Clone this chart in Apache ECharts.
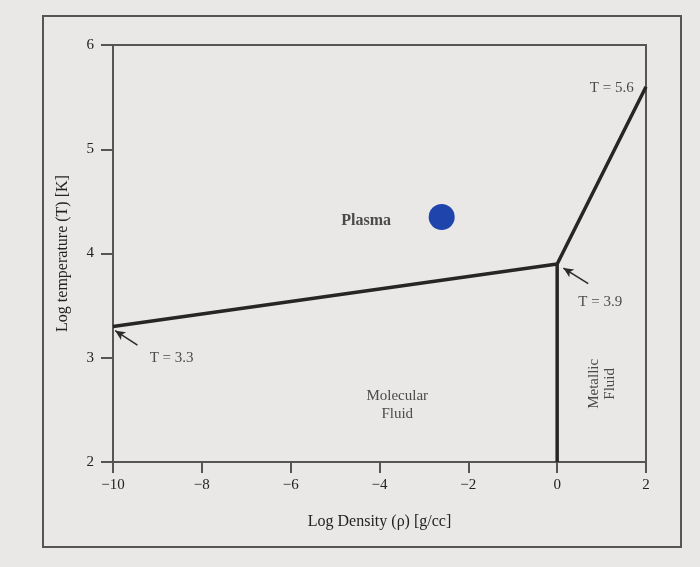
<!DOCTYPE html>
<html>
<head>
<meta charset="utf-8">
<script src="https://cdn.jsdelivr.net/npm/echarts@6/dist/echarts.min.js"></script>
<style>html,body{margin:0;padding:0;background:#e9e8e6;}#c{width:700px;height:567px;}</style>
</head>
<body>
<div id="c"></div>
<script>
// Phase boundaries
const boundaryX = [-10, 0, 2];
const boundaryT = [3.3, 3.9, 5.6];
const metallicX = [0, 0];
const metallicT = [2, 3.9];
// Marked point
const pointX = [-2.6];
const pointT = [4.35];
// Axis ticks
const xTicks = [-10, -8, -6, -4, -2, 0, 2];
const yTicks = [2, 3, 4, 5, 6];
// Text annotations
const regionNames = ['Plasma', 'Molecular\nFluid', 'Metallic\nFluid'];
const regionX = [-4.3, -3.6, 1.0];
const regionT = [4.31, 2.55, 2.75];
const tempLabels = ['T = 5.6', 'T = 3.3', 'T = 3.9'];
const tempLabelX = [1.23, -8.68, 0.97];
const tempLabelT = [5.59, 3.0, 3.53];
const arrowTailX = [-9.45, 0.7];
const arrowTailT = [3.12, 3.71];
const arrowHeadX = [-9.95, 0.14];
const arrowHeadT = [3.26, 3.86];

const serif = '"Liberation Serif", "DejaVu Serif", serif';
const chart = echarts.init(document.getElementById('c'));
const textColor = '#222';

const textSeries = (names, xs, ys, style) => ({
  type: 'scatter', symbolSize: 0, silent: true, z: 5,
  data: names.map((n, i) => ({ value: [xs[i], ys[i]], name: n })),
  label: Object.assign({ show: true, position: 'inside', formatter: p => p.name,
    fontFamily: serif, color: textColor, fontSize: 15, lineHeight: 18 }, style)
});

chart.setOption({
  backgroundColor: '#e9e8e6',
  animation: false,
  graphic: [{ type: 'rect', shape: { x: 43, y: 16, width: 638, height: 531 },
    style: { fill: 'none', stroke: '#555', lineWidth: 2 } }],
  grid: { left: 113, right: 54, top: 45, bottom: 105, show: true,
    borderColor: '#555', borderWidth: 2, backgroundColor: 'transparent' },
  xAxis: {
    type: 'value', min: xTicks[0], max: xTicks[xTicks.length - 1], interval: 2,
    axisLine: { show: true, onZero: false, lineStyle: { color: '#555', width: 2 } },
    axisTick: { show: true, length: 11, lineStyle: { color: '#555', width: 2 } },
    splitLine: { show: false },
    axisLabel: { fontFamily: serif, fontSize: 15, color: textColor, margin: 16,
      formatter: v => (v < 0 ? '\u2212' + (-v) : String(v)) },
    name: 'Log Density (\u03c1) [g/cc]', nameLocation: 'middle', nameGap: 52,
    nameTextStyle: { fontFamily: serif, fontSize: 16, color: textColor }
  },
  yAxis: {
    type: 'value', min: yTicks[0], max: yTicks[yTicks.length - 1], interval: 1,
    axisLine: { show: true, onZero: false, lineStyle: { color: '#555', width: 2 } },
    axisTick: { show: true, length: 12, lineStyle: { color: '#555', width: 2 } },
    splitLine: { show: false },
    axisLabel: { fontFamily: serif, fontSize: 15, color: textColor, margin: 19 },
    name: 'Log temperature (T) [K]', nameLocation: 'middle', nameGap: 42,
    nameTextStyle: { fontFamily: serif, fontSize: 16, color: textColor }
  },
  series: [
    { type: 'line', data: boundaryX.map((x, i) => [x, boundaryT[i]]), symbol: 'none',
      lineStyle: { color: '#262626', width: 3.5 }, z: 3 },
    { type: 'line', data: metallicX.map((x, i) => [x, metallicT[i]]), symbol: 'none',
      lineStyle: { color: '#262626', width: 3.5 }, z: 3 },
    { type: 'scatter', data: pointX.map((x, i) => [x, pointT[i]]), symbolSize: 26,
      itemStyle: { color: '#1f45ad', opacity: 1 }, z: 4 },
    { type: 'line', data: [], silent: true,
      markLine: { silent: true, symbol: ['none', 'arrow'], symbolSize: [7, 10], label: { show: false },
        lineStyle: { color: '#2a2a2a', width: 1.5, type: 'solid' },
        data: arrowTailX.map((x, i) => [{ coord: [x, arrowTailT[i]] }, { coord: [arrowHeadX[i], arrowHeadT[i]] }]) } },
    textSeries([regionNames[0]], [regionX[0]], [regionT[0]], { fontWeight: 'bold', fontSize: 16 }),
    textSeries([regionNames[1]], [regionX[1]], [regionT[1]], {}),
    textSeries([regionNames[2]], [regionX[2]], [regionT[2]], { rotate: 90, fontSize: 15, lineHeight: 16 }),
    textSeries(tempLabels, tempLabelX, tempLabelT, { fontSize: 15 })
  ]
});
</script>
</body>
</html>
